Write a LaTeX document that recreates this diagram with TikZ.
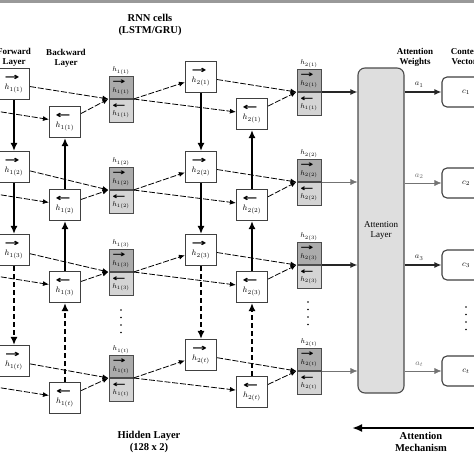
\documentclass[tikz,border=0pt]{standalone}
\usepackage{amsmath}
\usepackage{graphicx}
\usepackage{fontspec}
\setmainfont{Liberation Serif}
\newfontfamily\arrfont{DejaVu Sans}
\usetikzlibrary{arrows.meta}
\newcommand{\rarr}{\scalebox{2.1}[1.15]{\arrfont\bfseries →}}
\newcommand{\larr}{\scalebox{2.1}[1.15]{\arrfont\bfseries ←}}
\newcommand{\fwd}[1]{\rarr\\[-1pt]$h_{#1}$}
\newcommand{\bwd}[1]{\larr\\[-1pt]$h_{#1}$}
\begin{document}
\begin{tikzpicture}[x=1pt,y=-1pt,
  cell/.style={draw=black!75,line width=1.1pt,fill=white,minimum width=31pt,minimum height=31pt,inner sep=0pt,align=left,font=\fontsize{8.5}{9.5}\selectfont},
  halftop/.style={draw=black!70,line width=1pt,fill=black!33,minimum width=24pt,minimum height=22.5pt,inner sep=0pt,align=left,font=\fontsize{7.5}{8.5}\selectfont,anchor=south},
  halfbot/.style={halftop,fill=black!17,anchor=north},
  lbl/.style={font=\fontsize{7.5}{8.5}\selectfont,inner sep=1pt,anchor=south},
  conn/.style={-{Latex[length=6pt,width=5pt]},line width=0.8pt,dash pattern=on 6pt off 1.8pt},
  vert/.style={-{Latex[length=8pt,width=7pt]},line width=1.6pt},
  vdash/.style={vert,dash pattern=on 5pt off 3pt},
  strong/.style={-{Latex[length=7pt,width=6pt]},line width=1.3pt,black!85},
  weak/.style={-{Latex[length=7pt,width=6pt]},line width=0.6pt,black!55},
  hdr/.style={font=\fontsize{9}{10}\selectfont\bfseries,align=center,inner sep=0pt},
  ttl/.style={font=\fontsize{10.5}{12.5}\selectfont\bfseries,align=center,inner sep=0pt},
  att/.style={draw=black!70,line width=1.1pt,fill=black!13,rounded corners=7pt,minimum width=46pt,minimum height=325pt,align=center,font=\fontsize{9}{10}\selectfont,inner sep=0pt},
  cbox/.style={draw=black!75,line width=1.1pt,fill=white,rounded corners=5pt,minimum width=48pt,minimum height=30pt,inner sep=0pt,font=\fontsize{8.5}{10}\selectfont},
  big/.style={-{Latex[length=10pt,width=8pt]},line width=2.4pt}
]
\useasboundingbox (0,0) rectangle (474,474);
\clip (0,0) rectangle (474,474);
\fill[white] (0,0) rectangle (474,474);
\fill[black!40] (0,0) rectangle (474,2.5);

% headers
\node[hdr] (hF) at (14,57) {Forward\\Layer};
\node[hdr] (hB) at (66,58) {Backward\\Layer};
\node[ttl] (hR) at (150,25) {RNN cells\\(LSTM/GRU)};
\node[hdr] (hW) at (415,57) {Attention\\Weights};
\node[hdr] (hC) at (466,57) {Context\\Vectors};
\node[ttl] (hH) at (149,442) {Hidden Layer\\(128 x 2)};
\node[ttl] (hM) at (421,442) {Attention\\Mechanism};
\coordinate (mS) at (490,428);
\coordinate (mE) at (352,428);
\draw[big] (mS) -- (mE);

% attention layer
\node[att] (att) at (381,230.5) {Attention\\Layer};

\foreach \r/\fa/\ba/\ca/\fb/\bb/\cb/\ay/\cbl/\st in {
  1/84/122/99/77/114/92/92/1(1)/strong,
  2/167/205/190/167/205/182/183/2(2)/weak,
  3/250/287/272/250/287/265/265/2(3)/strong,
  t/361/398/378/355/392/371/371/2(t)/weak}{
  \node[cell] (F1-\r) at (14,\fa) {\fwd{1(\r)}};
  \node[cell] (B1-\r) at (65,\ba) {\bwd{1(\r)}};
  \node[halftop] (C1a-\r) at (121,\ca) {\fwd{1(\r)}};
  \node[halfbot] (C1b-\r) at (121,\ca) {\bwd{1(\r)}};
  \node[lbl] (L1-\r) at (C1a-\r.north) {$h_{1(\r)}$};
  \node[cell] (F2-\r) at (201,\fb) {\fwd{2(\r)}};
  \node[cell] (B2-\r) at (252,\bb) {\bwd{2(\r)}};
  \node[halftop] (C2a-\r) at (309,\cb) {\fwd{2(\r)}};
  \node[halfbot] (C2b-\r) at (309,\cb) {\bwd{\cbl}};
  \node[lbl] (L2-\r) at (C2a-\r.north) {$h_{2(\r)}$};
  \node[cbox] (c-\r) at (466,\ay) {$c_{\r}$};
  \coordinate (in-\r) at (-30,\ba-15);
  \draw[conn] (in-\r) -- (B1-\r);
  \draw[conn] (F1-\r) -- (C1a-\r.south west);
  \draw[conn] (B1-\r) -- (C1a-\r.south west);
  \draw[conn] (C1a-\r.south east) -- (F2-\r);
  \draw[conn] (C1a-\r.south east) -- (B2-\r);
  \draw[conn] (F2-\r) -- (C2a-\r.south west);
  \draw[conn] (B2-\r) -- (C2a-\r.south west);
  \draw[\st] (C2a-\r.south east) -- (att.west |- C2a-\r.south east);
  \draw[\st] (att.east |- c-\r.west) -- node[above=1pt,pos=0.4,font=\fontsize{8}{9}\selectfont]{$a_{\r}$} (c-\r.west);
}

% vertical recurrences
\draw[vert] (F1-1) -- (F1-2);
\draw[vert] (F1-2) -- (F1-3);
\draw[vdash] (F1-3) -- (F1-t);
\draw[vert] (B1-2) -- (B1-1);
\draw[vert] (B1-3) -- (B1-2);
\draw[vdash] (B1-t) -- (B1-3);
\draw[vert] (F2-1) -- (F2-2);
\draw[vert] (F2-2) -- (F2-3);
\draw[vdash] (F2-3) -- (F2-t);
\draw[vert] (B2-2) -- (B2-1);
\draw[vert] (B2-3) -- (B2-2);
\draw[vdash] (B2-t) -- (B2-3);

% ellipsis dots
\foreach \x/\y in {121/310, 308/302, 466/307}{
  \foreach \k in {0,1,2,3}{\fill (\x,\y+\k*7.5) circle (0.9pt);}
}
\end{tikzpicture}
\end{document}
